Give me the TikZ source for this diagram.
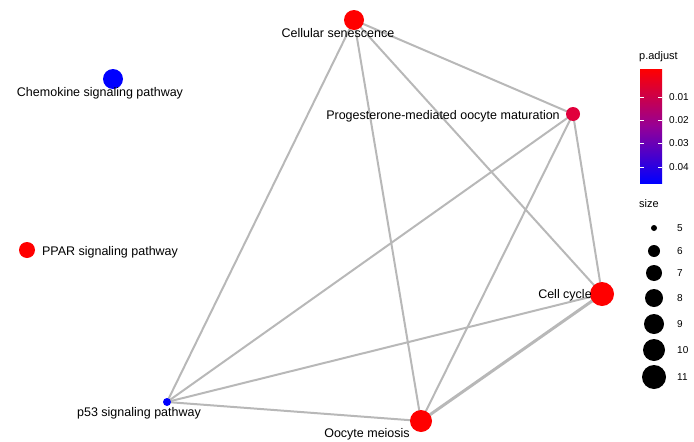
\documentclass[tikz,border=0pt]{standalone}
\usepackage{fontspec}
\setmainfont{Liberation Sans}
\begin{document}
\begin{tikzpicture}[x=1pt,y=-1pt,
  edge/.style={draw=black!28,line width=2pt},
  dot/.style={circle,inner sep=0pt},
  lab/.style={font=\fontsize{12.5}{14}\selectfont,inner sep=0pt},
  leg/.style={font=\fontsize{11}{13}\selectfont,inner sep=0pt,anchor=west}]
\useasboundingbox (0,0) rectangle (694,442);
\definecolor{c1}{RGB}{255,0,0}
\definecolor{c2}{RGB}{0,0,255}
\definecolor{c3}{RGB}{225,0,60}
\coordinate (cs) at (354,20);
\coordinate (ch) at (113,79);
\coordinate (pr) at (573,114);
\coordinate (pp) at (27,250);
\coordinate (cc) at (602,294);
\coordinate (p5) at (167,402);
\coordinate (om) at (421,421);
\draw[edge] (cs)--(pr); \draw[edge] (cs)--(cc); \draw[edge] (cs)--(om); \draw[edge] (cs)--(p5);
\draw[edge] (pr)--(p5); \draw[edge] (pr)--(om); \draw[edge] (pr)--(cc);
\draw[edge] (cc)--(p5); \draw[edge,line width=3pt] (cc)--(om); \draw[edge] (p5)--(om);
\node[dot,fill=c1,minimum size=20pt] (ncs) at (cs) {};
\node[dot,fill=c2,minimum size=20pt] (nch) at (ch) {};
\node[dot,fill=c3,minimum size=14pt] (npr) at (pr) {};
\node[dot,fill=c1,minimum size=16pt] (npp) at (pp) {};
\node[dot,fill=c1,minimum size=24pt] (ncc) at (cc) {};
\node[dot,fill=c2,minimum size=8pt] (np5) at (p5) {};
\node[dot,fill=c1,minimum size=22pt] (nom) at (om) {};
\node[lab] (l1) at (338,33) {Cellular senescence};
\node[lab] (l2) at (100,93) {Chemokine signaling pathway};
\node[lab] (l3) at (443,116) {Progesterone-mediated oocyte maturation};
\node[lab] (l4) at (110,252) {PPAR signaling pathway};
\node[lab] (l5) at (565,295) {Cell cycle};
\node[lab] (l6) at (139,413) {p53 signaling pathway};
\node[lab] (l7) at (367,434) {Oocyte meiosis};
% legend
\node[leg] (t1) at (639,57) {p.adjust};
\shade[top color=c1,bottom color=c2,middle color={rgb,255:red,150;green,0;blue,150}] (640,69) rectangle (662,183);
\foreach \y/\v in {97/0.01,120/0.02,143/0.03,167/0.04}{
  \draw[white,line width=0.6pt] (640,\y)--(644,\y) (658,\y)--(662,\y);
  \node[leg,font=\fontsize{10}{12}\selectfont] at (669,\y) {\v};}
\node[leg] (t2) at (639,204) {size};
\foreach \y/\r/\v in {228/3/5,251/6/6,273/8/7,298/9/8,324/10/9,350/11/10,377/12/11}{
  \fill (654,\y) circle (\r);
  \node[leg,font=\fontsize{10}{12}\selectfont] at (677,\y) {\v};}
\end{tikzpicture}
\end{document}
